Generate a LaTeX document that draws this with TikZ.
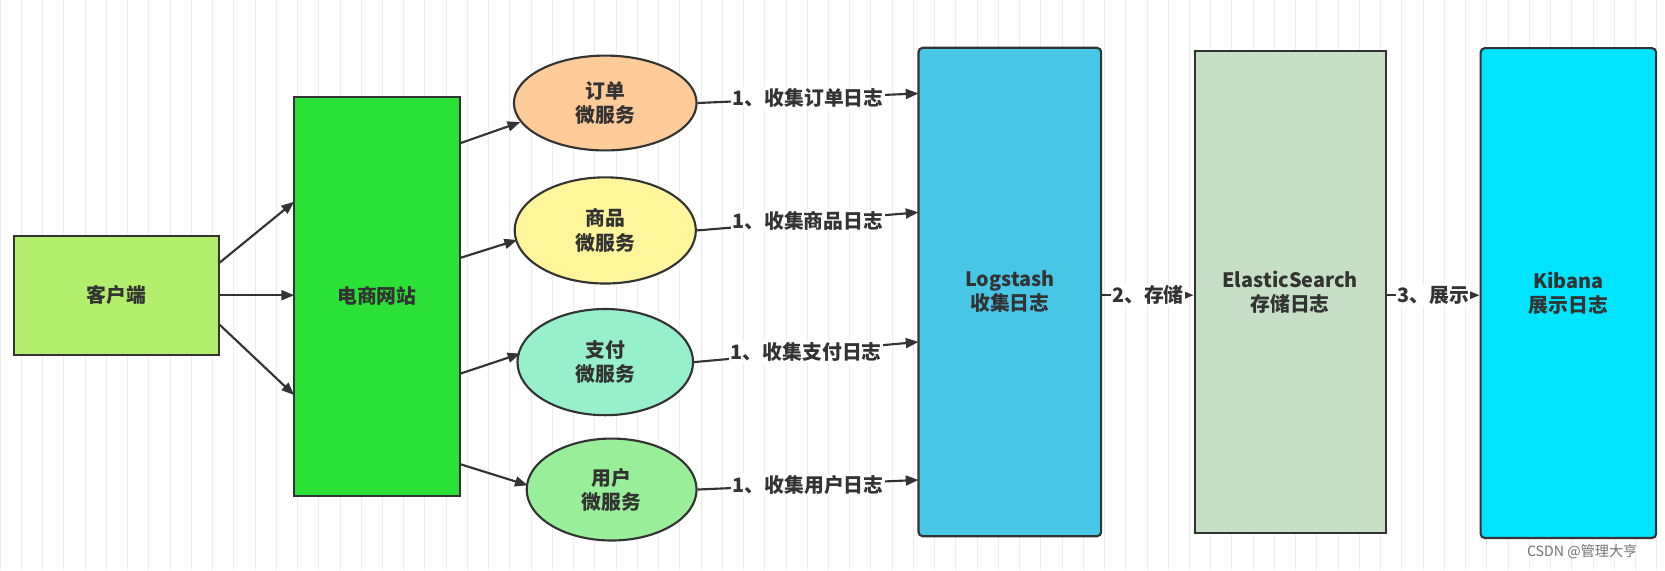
\documentclass[tikz,border=0pt]{standalone}
\usepackage{fontspec}
\setmainfont{Noto Sans CJK SC}
\usetikzlibrary{arrows.meta,shapes.geometric}
\begin{document}
\begin{tikzpicture}[x=0.75pt,y=-0.75pt,
  box/.style={draw=black!80,line width=1.5pt,font=\bfseries\fontsize{14}{17}\selectfont,text=black!80,align=center},
  arr/.style={draw=black!80,line width=1.5pt,-{Triangle[length=9pt,width=7pt]}},
  lab/.style={fill=white,inner sep=1pt,font=\bfseries\fontsize{14}{17}\selectfont,text=black!80}]
\useasboundingbox (0,0) rectangle (1568,537);
\fill[white] (0,0) rectangle (1568,537);
\draw[black!7] (0,0) grid[step=20] (1568,537);
\node[box,fill={rgb,255:red,178;green,238;blue,107}] (c) at (109.5,278) [minimum width=145pt,minimum height=84pt] {客户端};
\node[box,fill={rgb,255:red,43;green,224;blue,54}] (w) at (355,279) [minimum width=117pt,minimum height=282pt] {电商网站};
\node[box,fill={rgb,255:red,255;green,204;blue,153},ellipse,minimum width=129pt,minimum height=67pt] (o) at (570,97) {订单\\微服务};
\node[box,fill={rgb,255:red,255;green,245;blue,154},ellipse,minimum width=128pt,minimum height=75pt] (g) at (570,217) {商品\\微服务};
\node[box,fill={rgb,255:red,150;green,240;blue,204},ellipse,minimum width=124pt,minimum height=75pt] (p) at (570,341) {支付\\微服务};
\node[box,fill={rgb,255:red,153;green,238;blue,153},ellipse,minimum width=120pt,minimum height=72pt] (u) at (576,461) {用户\\微服务};
\node[box,rounded corners=3pt,fill={rgb,255:red,72;green,198;blue,230},minimum width=129pt,minimum height=345pt] (l) at (951,275) {Logstash\\收集日志};
\node[box,fill={rgb,255:red,197;green,224;blue,197},minimum width=135pt,minimum height=340pt] (e) at (1215,275) {ElasticSearch\\存储日志};
\node[box,rounded corners=3pt,fill={rgb,255:red,0;green,229;blue,255},minimum width=124pt,minimum height=346pt] (k) at (1477,276) {Kibana\\展示日志};
\coordinate (c1) at (206,248); \coordinate (c2) at (206,278); \coordinate (c3) at (206,305);
\draw[arr] (c1) -- (277,190);
\draw[arr] (c2) -- (277,278);
\draw[arr] (c3) -- (277,372);
\coordinate (w1) at (433,135); \coordinate (w2) at (433,243); \coordinate (w3) at (433,352); \coordinate (w4) at (433,437);
\draw[arr] (w1) -- (490,115);
\draw[arr] (w2) -- (487,226);
\draw[arr] (w3) -- (490,333);
\draw[arr] (w4) -- (497,457);
\draw[arr] (o.east) -- node[lab]{1、收集订单日志} (865,88);
\draw[arr] (g.east) -- node[lab]{1、收集商品日志} (865,200);
\draw[arr] (p.east) -- node[lab]{1、收集支付日志} (865,322);
\draw[arr] (u.east) -- node[lab]{1、收集用户日志} (865,452);
\draw[arr] (l.east |- 0,278) -- node[lab]{2、存储} (e.west |- 0,278);
\draw[arr] (e.east |- 0,278) -- node[lab]{3、展示} (k.west |- 0,278);
\node[text=black!55,font=\fontsize{10}{12}\selectfont] (wm) at (1490,520) {CSDN @管理大亨};
\end{tikzpicture}
\end{document}
